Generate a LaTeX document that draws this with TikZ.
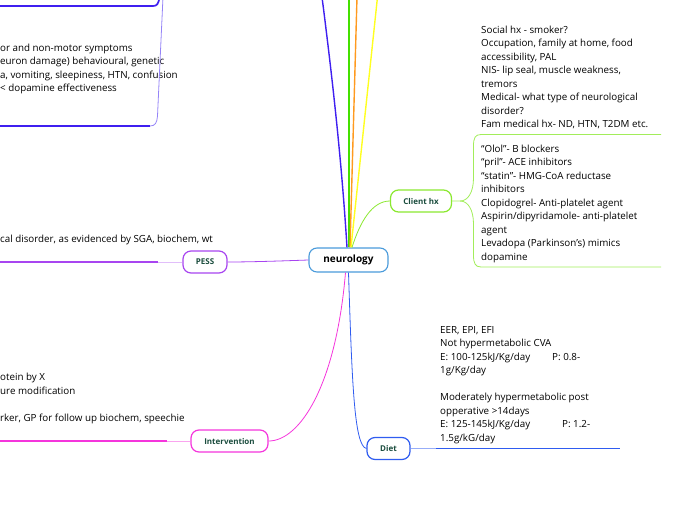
\documentclass[tikz,border=0pt]{standalone}
\usepackage{fontspec}
\setmainfont{Open Sans}
\usepackage{xcolor}
\usetikzlibrary{positioning, calc}

\definecolor{RootBlue}{HTML}{4A9BDB}
\definecolor{TopicText}{HTML}{1B4D3E}
\definecolor{NeuroViolet}{HTML}{3F1FF0}
\definecolor{NeuroGreen}{HTML}{44E000}
\definecolor{NeuroOrange}{HTML}{FF9A1F}
\definecolor{NeuroYellow}{HTML}{FFFF20}
\definecolor{ClientGreen}{HTML}{8BE830}
\definecolor{PessPurple}{HTML}{A845F0}
\definecolor{InterMagenta}{HTML}{F535DC}
\definecolor{DietBlue}{HTML}{2F5CF0}

\begin{document}
\begin{tikzpicture}[
    x=1pt, y=-1pt,
    root/.style={rectangle, rounded corners=8pt, draw=RootBlue, line width=1.1pt, fill=white, minimum width=79pt, minimum height=24pt, font=\fontsize{10}{12}\selectfont\bfseries},
    topic/.style={rectangle, rounded corners=8pt, line width=1.2pt, fill=white, minimum height=22pt, inner xsep=4pt, font=\fontsize{8}{9}\selectfont\bfseries\color{TopicText}},
    note/.style={anchor=north west, align=left, inner sep=0pt, font=\fontsize{9.8}{13.5}\selectfont},
    branch/.style={line width=1.4pt},
    twig/.style={line width=0.8pt},
    underline/.style={line width=1.7pt}
    ]
    \useasboundingbox (0,0) rectangle (697,520);
    \clip (0,0) rectangle (697,520);

    % Nodes
    \node[root] (neuro) at (348.5,260) {neurology};
    \node[topic, draw=ClientGreen, minimum width=61pt] (client) at (421,201) {Client hx};
    \node[topic, draw=PessPurple, minimum width=44pt] (pess) at (205,262) {PESS};
    \node[topic, draw=InterMagenta, minimum width=77pt] (inter) at (229.5,441) {Intervention};
    \node[topic, draw=DietBlue, minimum width=43pt] (diet) at (388.5,448.5) {Diet};

    \node[note] (symptoms) at (0,43.5) {or and non-motor symptoms\\
        euron damage) behavioural, genetic\\
        a, vomiting, sleepiness, HTN, confusion\\
        < dopamine effectiveness};
    \node[note] (social) at (481,25.5) {Social hx - smoker?\\
        Occupation, family at home, food\\
        accessibility, PAL\\
        NIS- lip seal, muscle weakness,\\
        tremors\\
        Medical- what type of neurological\\
        disorder?\\
        Fam medical hx- ND, HTN, T2DM etc.};
    \node[note] (drugs) at (481,144.5) {“Olol”- B blockers\\
        “pril”- ACE inhibitors\\
        “statin”- HMG-CoA reductase\\
        inhibitors\\
        Clopidogrel- Anti-platelet agent\\
        Aspirin/dipyridamole- anti-platelet\\
        agent\\
        Levadopa (Parkinson’s) mimics\\
        dopamine};
    \node[note] (pesstext) at (0,234.5) {cal disorder, as evidenced by SGA, biochem, wt};
    \node[note] (intertext) at (0,373) {otein by X\\
        ure modification\\
        \\
        rker, GP for follow up biochem, speechie};
    \node[note] (diettext) at (440,326) {EER, EPI, EFI\\
        Not hypermetabolic CVA\\
        \makebox[112pt][l]{E: 100-125kJ/Kg/day}P: 0.8-\\
        1g/Kg/day\\
        \\
        Moderately hypermetabolic post\\
        opperative >14days\\
        \makebox[122pt][l]{E: 125-145kJ/Kg/day}P: 1.2-\\
        1.5g/kG/day};

    % Free ends
    \coordinate (upviolet) at (322,-3);
    \coordinate (upgreen) at (349,-3);
    \coordinate (uporange) at (357,-3);
    \coordinate (upyellow) at (377.5,-3);
    \coordinate (pessend) at (-3,262);
    \coordinate (interend) at (-3,441);

    % Edges
    \draw[branch, NeuroViolet] ($(neuro.north)+(-1.5,0)$) .. controls (341,150) and (330,60) .. (upviolet);
    \draw[branch, NeuroGreen] ($(neuro.north)+(0.5,0)$) -- (upgreen);
    \draw[branch, NeuroOrange] ($(neuro.north)+(1.5,0)$) -- (uporange);
    \draw[branch, NeuroYellow] ($(neuro.north)+(2.5,0)$) -- (upyellow);
    \draw[twig, ClientGreen] ($(neuro.north)+(3.5,0)$) .. controls (360,222) and (372,201) .. (client.west);
    \draw[twig, PessPurple] (neuro.west) .. controls (280,261) and (250,262) .. (pess.east);
    \draw[twig, InterMagenta] ($(neuro.south)+(-3,0)$) .. controls (336,385) and (300,441) .. (inter.east);
    \draw[twig, DietBlue] ($(neuro.south)+(0,0)$) .. controls (352,380) and (354,446) .. (diet.west);

    % Client hx bracket and rules
    \draw[twig, ClientGreen!80] (client.east) -- ++(8,0)
        .. controls +(8,0) and (473.5,192) .. (473.5,178) -- (473.5,146)
        .. controls (473.5,138) and (475,134.5) .. (481,134.5) -- (661,134.5);
    \draw[twig, ClientGreen!80] (client.east) ++(8,0)
        .. controls +(8,0) and (473.5,210) .. (473.5,224) -- (473.5,255)
        .. controls (473.5,263) and (475,267) .. (481,267) -- (661,267);

    % PESS, Intervention and Diet rules
    \draw[twig, PessPurple!35] (pess.west) -- (158,262);
    \draw[underline, PessPurple] (158,262) -- (pessend);
    \draw[twig, InterMagenta!45] (inter.west) -- (167,441);
    \draw[underline, InterMagenta] (167,441) -- (interend);
    \draw[twig, DietBlue!50] (diet.east) -- (436,448.5);
    \draw[underline, DietBlue] (436,448.5) -- (620,448.5);

    % Top left fragments
    \draw[underline, NeuroViolet] (-3,6) -- (153,6) .. controls (157,6) and (158.5,4) .. (159.5,-3);
    \draw[twig, NeuroViolet!55] (163,-3) -- (157.5,116) .. controls (157,123) and (155,126) .. (150,126);
    \draw[underline, NeuroViolet] (150,126) -- (-3,126);
\end{tikzpicture}
\end{document}
